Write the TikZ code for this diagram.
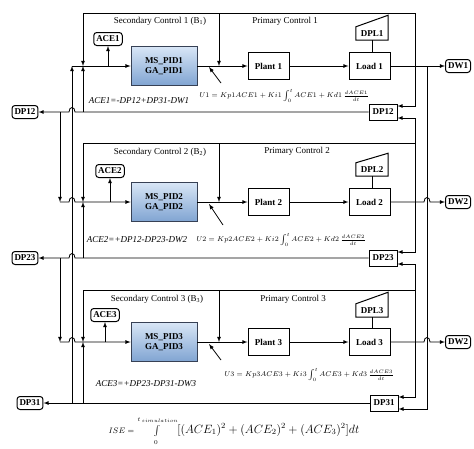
\documentclass[tikz,border=0pt]{standalone}
\usepackage{fontspec}
\setmainfont{Liberation Serif}
\usetikzlibrary{calc}

\definecolor{pidtop}{RGB}{216,230,246}
\definecolor{pidbot}{RGB}{128,164,210}
\definecolor{pidline}{RGB}{55,65,85}

\newcommand{\dfr}[2]{\frac{\raisebox{1pt}{$\scriptscriptstyle #1$}}{\raisebox{-1pt}{$\scriptscriptstyle #2$}}}

\tikzset{
  sig/.style={line width=.8pt},
  blk/.style={draw, line width=1pt, minimum width=41pt, minimum height=27pt, inner sep=1pt, font=\bfseries\fontsize{9}{10}\selectfont},
  pid/.style={draw=pidline, line width=.8pt, top color=pidtop, bottom color=pidbot, minimum width=66pt, minimum height=39pt, align=center, font=\bfseries\fontsize{9}{10}\selectfont},
  dpbox/.style={draw, line width=1pt, minimum width=28pt, minimum height=16pt, inner sep=1pt, font=\bfseries\fontsize{9}{10}\selectfont},
  tagbox/.style={draw, line width=1pt, rounded corners=3pt, minimum height=13pt, inner xsep=2.5pt, inner ysep=1pt, font=\bfseries\fontsize{9}{10}\selectfont},
  dplbox/.style={minimum width=32pt, minimum height=13pt, inner sep=1pt, font=\bfseries\fontsize{9}{10}\selectfont},
  lbl/.style={font=\fontsize{9}{10}\selectfont},
  eqn/.style={font=\itshape\fontsize{9}{10}\selectfont},
  ueq/.style={font=\fontsize{7.5}{9}\selectfont, inner sep=0pt},
  >=latex
}

\begin{document}
\begin{tikzpicture}[x=1pt,y=-1pt]
\useasboundingbox (0,0) rectangle (474,448);

% area 1
\node[pid] (pid1) at (164,66) {MS\_PID1\\GA\_PID1};
\node[blk] (plant1) at (268.5,66) {Plant 1};
\node[blk] (load1) at (369.5,66) {Load 1};
\node[dplbox] (dpl1) at (372,33.5) {DPL1};
\draw[line width=1pt] (dpl1.south west) -- (dpl1.south east) -- ++(0,-25) -- (dpl1.north west) -- cycle;
\node[tagbox] (ace1) at (108,39) {ACE1};
\node[tagbox] (dw1) at (458,66) {DW1};
\node[dpbox] (dp12r) at (383,112) {DP12};
\node[tagbox] (dp12l) at (25,112) {DP12};
\node[lbl] (sc1) at (160,21) {Secondary Control 1 (B\textsubscript{1})};
\node[lbl] (pc1) at (285,21) {Primary Control 1};
\node[eqn] (ace1eq) at (139,101) {ACE1=-DP12+DP31-DW1};
\node[ueq] (u1eq) at (284,96) {$U1 = Kp1ACE1 + Ki1\int_0^t ACE1 + Kd1\,\dfr{dACE1}{dt}$};

% area 2
\node[pid] (pid2) at (164,202) {MS\_PID2\\GA\_PID2};
\node[blk] (plant2) at (268.5,202) {Plant 2};
\node[blk] (load2) at (369.5,202) {Load 2};
\node[dplbox] (dpl2) at (372,169.5) {DPL2};
\draw[line width=1pt] (dpl2.south west) -- (dpl2.south east) -- ++(0,-23) -- (dpl2.north west) -- cycle;
\node[tagbox] (ace2) at (110,171) {ACE2};
\node[tagbox] (dw2) at (458,202) {DW2};
\node[dpbox] (dp23r) at (383,258) {DP23};
\node[tagbox] (dp23l) at (25,258) {DP23};
\node[lbl] (sc2) at (160,152) {Secondary Control 2 (B\textsubscript{2})};
\node[lbl] (pc2) at (297,151) {Primary Control 2};
\node[eqn] (ace2eq) at (137,240) {ACE2=+DP12-DP23-DW2};
\node[ueq] (u2eq) at (281,240) {$U2 = Kp2ACE2 + Ki2\int_0^t ACE2 + Kd2\,\dfr{dACE2}{dt}$};

% area 3
\node[pid] (pid3) at (164,342) {MS\_PID3\\GA\_PID3};
\node[blk] (plant3) at (268.5,342) {Plant 3};
\node[blk] (load3) at (369.5,342) {Load 3};
\node[dplbox] (dpl3) at (372,310.5) {DPL3};
\draw[line width=1pt] (dpl3.south west) -- (dpl3.south east) -- ++(0,-25) -- (dpl3.north west) -- cycle;
\node[tagbox] (ace3) at (105,315) {ACE3};
\node[tagbox] (dw3) at (458,342) {DW2};
\node[dpbox] (dp31r) at (384,403) {DP31};
\node[tagbox] (dp31l) at (30,403) {DP31};
\node[lbl] (sc3) at (157,299) {Secondary Control 3 (B\textsubscript{3})};
\node[lbl] (pc3) at (293,299) {Primary Control 3};
\node[eqn] (ace3eq) at (146,384) {ACE3=+DP23-DP31-DW3};
\node[ueq] (u3eq) at (309,375) {$U3 = Kp3ACE3 + Ki3\int_0^t ACE3 + Kd3\,\dfr{dACE3}{dt}$};

\node (ise) at (234,431) {\fontsize{8}{9}\selectfont$ISE = \int\limits_{\raisebox{-1.5pt}{$\scriptstyle 0$}}^{\raisebox{2pt}{$\scriptstyle t_{\,simulation}$}}$\fontsize{12}{13}\selectfont$[(ACE_1)^2+(ACE_2)^2+(ACE_3)^2]dt$};

% corners and joints
\coordinate (tl1) at (83,13);  \coordinate (tr1) at (415,13);
\coordinate (tl2) at (83,143); \coordinate (tr2) at (415,143);
\coordinate (tl3) at (83,290); \coordinate (tr3) at (415,290);
\coordinate (u1) at (219,13);  \coordinate (u2) at (219,143); \coordinate (u3) at (219,290);
\coordinate (j1) at (72,66);   \coordinate (j2) at (60,202);  \coordinate (j3) at (60,342);
\coordinate (dwv) at (427,66);
\coordinate (p1) at (221,83);  \coordinate (q1) at (209,67);
\coordinate (p2) at (223,225); \coordinate (q2) at (209,204);
\coordinate (p3) at (221,360); \coordinate (q3) at (209,344);

% forward paths
\draw[sig,->] (j1) -- (pid1);
\draw[sig,->] (j2) -- (69,202) .. controls (69,196) and (75,196) .. (75,202) -- (pid2);
\draw[sig,->] (j3) -- (69,342) .. controls (69,336) and (75,336) .. (75,342) -- (pid3);
\draw[sig,->] (pid1) -- (plant1);
\draw[sig,->] (pid2) -- (plant2);
\draw[sig,->] (pid3) -- (plant3);
\draw[sig,->] (plant1) -- (load1);
\draw[sig,->] (plant2) -- (load2);
\draw[sig,->] (plant3) -- (load3);
\draw[sig,->] (load1) -- (dw1);
\draw[sig,->] (load2) -- (424,202) .. controls (424,196) and (430,196) .. (430,202) -- (dw2);
\draw[sig,->] (load3) -- (424,342) .. controls (424,336) and (430,336) .. (430,342) -- (dw3);
\draw[sig] (dpl1.south) -- (dpl1.south |- load1.north);
\draw[sig] (dpl2.south) -- (dpl2.south |- load2.north);
\draw[sig] (dpl3.south) -- (dpl3.south |- load3.north);
\draw[sig,->] (ace1 |- pid1) -- (ace1);
\draw[sig,->] (ace2 |- pid2) -- (ace2);
\draw[sig,->] (ace3 |- pid3) -- (ace3);
\draw[sig,->] (p1) -- (q1);
\draw[sig,->] (p2) -- (q2);
\draw[sig,->] (p3) -- (q3);

% top lines
\draw[sig] (tl1) -- (tr1);
\draw[sig] (tl2) -- (tr2);
\draw[sig] (tl3) -- (tr3);
\draw[sig,->] (tl1) -- (tl1 |- pid1);
\draw[sig,->] (tl2) -- (tl2 |- pid2);
\draw[sig,->] (tl3) -- (tl3 |- pid3);
\draw[sig,->] (u1) -- (u1 |- pid1);
\draw[sig,->] (u2) -- (u2 |- pid2);
\draw[sig,->] (u3) -- (u3 |- pid3);
\draw[sig,->] (tr1) |- ($(dp12r.east)+(0,-6)$);
\draw[sig,->] (tr2) |- ($(dp12r.east)+(0,6)$);
\draw[sig,->] (tr2) |- ($(dp23r.east)+(0,-6)$);
\draw[sig,->] (tr3) |- ($(dp23r.east)+(0,6)$);
\draw[sig,->] (tr3) |- ($(dp31r.east)+(0,-6)$);
\draw[sig,->] (dwv) |- ($(dp31r.east)+(0,6)$);

% tie lines
\draw[sig,->] (dp12r) -- (75,112) .. controls (75,106) and (69,106) .. (69,112) -- (dp12l);
\draw[sig,->] (dp23r) -- (75,258) .. controls (75,252) and (69,252) .. (69,258) -- (dp23l);
\draw[sig,->] (dp31r) -- (dp31l);
\draw[sig,->] (tl1 |- dp12l) -- (tl1 |- pid1);
\draw[sig,->] (tl2 |- dp23l) -- (tl2 |- pid2);
\draw[sig,->] (tl3 |- dp31l) -- (tl3 |- pid3);
\draw[sig,->] (j2 |- dp12l) -- (j2);
\draw[sig,->] (j3 |- dp23l) -- (j3);
\draw[sig,->] (j1 |- dp31l) -- (j1);
\end{tikzpicture}
\end{document}
